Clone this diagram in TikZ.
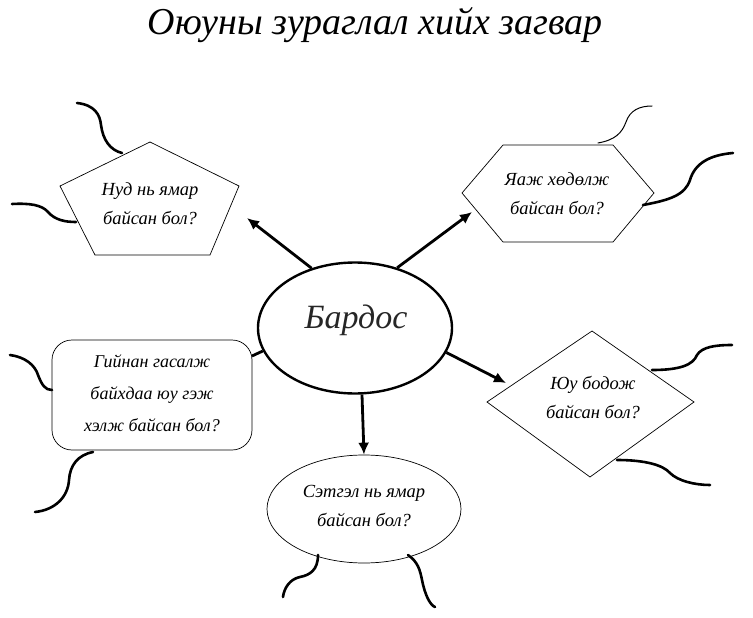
\documentclass[tikz,border=0pt]{standalone}
\usepackage{fontspec}
\setmainfont{Liberation Serif}
\usetikzlibrary{arrows.meta,shapes.geometric}
\tikzset{
  thinshape/.style={draw=black, line width=0.7pt, line join=miter},
  boxtext/.style={align=center, font=\fontsize{18.5}{29}\selectfont\itshape},
  bigarrow/.style={line width=2.8pt, -{Latex[length=12pt,width=11pt]}},
  tentacle/.style={line width=2.6pt, line cap=round},
  thintentacle/.style={line width=1pt, line cap=round}
}
\begin{document}
\begin{tikzpicture}[x=1pt,y=-1pt]
\useasboundingbox (0,0) rectangle (753,618);
% title
\node[font=\fontsize{38}{42}\selectfont\itshape] (title) at (375,25) {Оюуны зураглал хийх загвар};
% central ellipse
\node[ellipse, draw, line width=2.4pt, minimum width=194pt, minimum height=131pt] (bar) at (355,328) {};
\node[font=\fontsize{34}{38}\selectfont\itshape, text=black!85] (bartext) at (356,320) {Бардос};
% pentagon
\draw[thinshape] (150,142) -- (239,186) -- (210,255) -- (95,255) -- (60,186) -- cycle;
\node[boxtext] (pent) at (150,204) {Нуд нь ямар\\байсан бол?};
\coordinate (pentIn) at (247,218);
% hexagon
\draw[thinshape] (462,193) -- (503,145) -- (613,145) -- (654,193) -- (613,242) -- (503,242) -- cycle;
\node[boxtext] (hex) at (557,194) {Яаж хөдөлж\\байсан бол?};
\coordinate (hexIn) at (472,212);
% rounded rectangle
\draw[thinshape, rounded corners=20pt] (52,340) rectangle (252,450);
\node[boxtext, font=\fontsize{18}{32}\selectfont\itshape] (rect) at (152,393) {Гийнан гасалж\\байхдаа юу гэж\\хэлж байсан бол?};
\coordinate (rectIn) at (252,356);
% diamond
\draw[thinshape] (487,402) -- (592,331) -- (694,402) -- (590,477) -- cycle;
\node[boxtext] (dia) at (593,398) {Юу бодож\\байсан бол?};
\coordinate (diaIn) at (506,383);
% bottom ellipse
\node[ellipse, draw, line width=0.7pt, minimum width=194pt, minimum height=108pt] (ell) at (364,509) {};
\node[boxtext] (elltext) at (364,506) {Сэтгэл нь ямар\\байсан бол?};
% arrows
\draw[bigarrow] (bar.126) -- (pentIn);
\draw[bigarrow] (bar.55) -- (hexIn);
\draw[bigarrow] (bar.-15) -- (diaIn);
\draw[bigarrow] (bar.-84) -- (ell.north);
\draw[line width=2.8pt] (bar.-166) -- (rectIn);
% tentacles
\draw[tentacle] (77,103) .. controls (95,105) and (100,115) .. (101,125) .. controls (103,140) and (110,150) .. (122,153);
\draw[tentacle] (12,204) .. controls (30,203) and (42,205) .. (48,212) .. controls (55,220) and (65,222) .. (76,222);
\draw[thintentacle] (598,143) .. controls (615,140) and (622,133) .. (626,122) .. controls (630,110) and (640,106) .. (652,106);
\draw[tentacle] (643,205) .. controls (670,200) and (685,195) .. (690,180) .. controls (695,163) and (710,155) .. (733,153);
\draw[tentacle] (10,355) .. controls (25,357) and (35,365) .. (38,375) .. controls (42,385) and (45,390) .. (52,390);
\draw[tentacle] (93,452) .. controls (78,455) and (70,465) .. (69,480) .. controls (68,497) and (55,510) .. (35,512);
\draw[tentacle] (652,370) .. controls (680,370) and (693,365) .. (697,355) .. controls (702,347) and (715,345) .. (732,345);
\draw[tentacle] (617,460) .. controls (645,460) and (663,465) .. (670,473) .. controls (678,481) and (695,485) .. (710,485);
\draw[tentacle] (318,555) .. controls (318,570) and (310,575) .. (300,577) .. controls (290,579) and (284,588) .. (283,597);
\draw[tentacle] (408,555) .. controls (418,562) and (420,570) .. (422,580) .. controls (425,595) and (430,605) .. (435,607);
\end{tikzpicture}
\end{document}
